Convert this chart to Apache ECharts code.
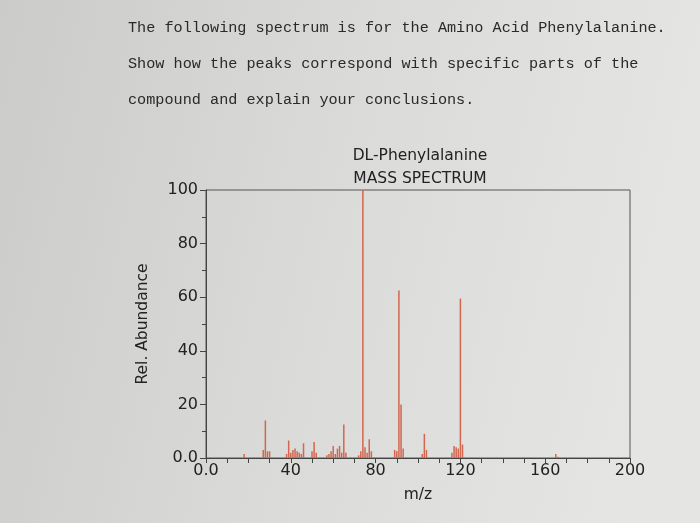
<!DOCTYPE html>
<html>
<head>
<meta charset="utf-8">
<script src="https://cdn.jsdelivr.net/npm/echarts@6/dist/echarts.min.js"></script>
<style>
html,body{margin:0;padding:0;}
#chart{width:700px;height:523px;}
</style>
</head>
<body>
<div id="chart"></div>
<script>
// Question text
var questionLines = [
  'The following spectrum is for the Amino Acid Phenylalanine.',
  'Show how the peaks correspond with specific parts of the',
  'compound and explain your conclusions.'
];
var chartTitle = 'DL-Phenylalanine\nMASS SPECTRUM';
var xAxisName = 'm/z';
var yAxisName = 'Rel. Abundance';

// m/z values and relative abundances
var mz = [18, 27, 28, 29, 30, 38, 39, 40, 41, 42, 43, 44, 45, 46, 50, 51, 52, 57, 58, 59, 60, 61, 62, 63, 64, 65, 66,
          72, 73, 74, 75, 76, 77, 78, 89, 90, 91, 92, 93, 102, 103, 104, 116, 117, 118, 119, 120, 121, 165, 166];
var abundance = [1.5, 3, 14, 2.5, 2.5, 1.5, 6.5, 2, 3, 3.5, 2.5, 2, 1.5, 5.5, 2.5, 6, 2, 1, 1.5, 2.5, 4.5, 1.5, 3.5, 4.5, 2, 12.5, 2,
                 1, 2.5, 100, 4, 2, 7, 2.5, 3, 2.5, 62.5, 20, 3.5, 1.5, 9, 3, 2, 4.5, 4, 3.5, 59.5, 5, 1.5, 0.5];

var peaks = mz.map(function (m, i) { return [m, abundance[i]]; });

var chart = echarts.init(document.getElementById('chart'));
var fmt = function (v) { return v === 0 ? '0.0' : String(v); };
var graphics = questionLines.map(function (t, i) {
  return {
    type: 'text', left: 128, top: 20 + i * 36,
    style: { text: t, font: '15.2px "Liberation Mono", monospace', fill: '#2a2a2a' }
  };
});

chart.setOption({
  backgroundColor: {
    type: 'linear', x: 0, y: 0, x2: 1, y2: 0.3,
    colorStops: [{ offset: 0, color: '#cbcbc9' }, { offset: 0.5, color: '#dadad8' }, { offset: 1, color: '#e5e5e3' }]
  },
  animation: false,
  graphic: graphics,
  title: {
    text: chartTitle, left: 415, top: 139, textAlign: 'center',
    textStyle: { fontFamily: 'DejaVu Sans', fontSize: 15.5, fontWeight: 'normal', color: '#222', lineHeight: 23 }
  },
  grid: { left: 206, right: 70, top: 190, bottom: 65, show: true, borderColor: '#555', borderWidth: 1, backgroundColor: 'transparent' },
  xAxis: {
    type: 'value', min: 0, max: 200, interval: 40,
    name: xAxisName, nameLocation: 'middle', nameGap: 29,
    nameTextStyle: { fontFamily: 'DejaVu Sans', fontSize: 15.5, color: '#222' },
    axisLine: { lineStyle: { color: '#444' } },
    axisTick: { show: true, inside: false, length: 5, lineStyle: { color: '#444' } },
    minorTick: { show: true, splitNumber: 4, length: 5, lineStyle: { color: '#444' } },
    axisLabel: { formatter: fmt, fontFamily: 'DejaVu Sans', fontSize: 16, color: '#222', margin: 5 },
    splitLine: { show: false }
  },
  yAxis: {
    type: 'value', min: 0, max: 100, interval: 20,
    name: yAxisName, nameLocation: 'middle', nameGap: 55, nameRotate: 90,
    nameTextStyle: { fontFamily: 'DejaVu Sans', fontSize: 15.5, color: '#222' },
    axisLine: { show: true, lineStyle: { color: '#444' } },
    axisTick: { show: true, inside: false, length: 6, lineStyle: { color: '#444' } },
    minorTick: { show: true, splitNumber: 2, length: 4, lineStyle: { color: '#444' } },
    axisLabel: { formatter: fmt, fontFamily: 'DejaVu Sans', fontSize: 16, color: '#222', margin: 8 },
    splitLine: { show: false }
  },
  series: [{
    type: 'bar', data: peaks, barWidth: 1.5,
    itemStyle: { color: '#d2664f' }
  }]
});
</script>
</body>
</html>
